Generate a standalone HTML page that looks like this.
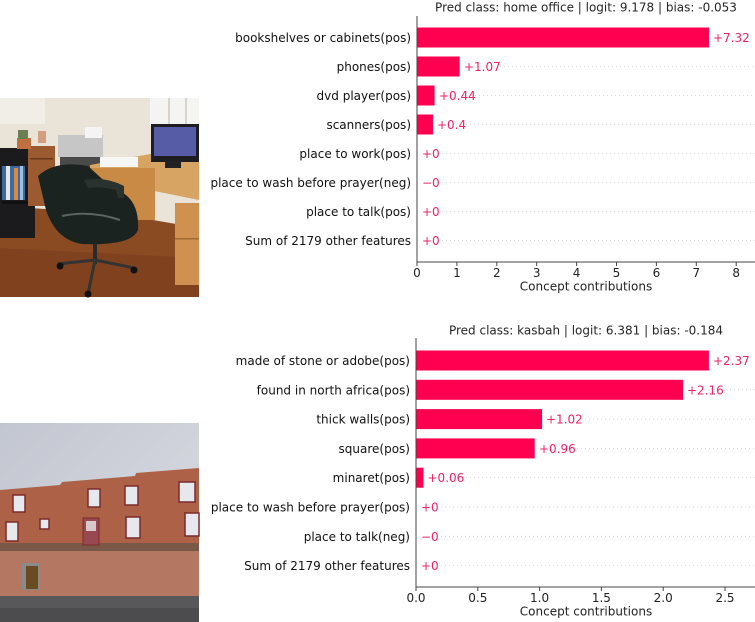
<!DOCTYPE html>
<html><head><meta charset="utf-8"><style>
html,body{margin:0;padding:0;background:#fff;}
svg{display:block;}
text{font-family:"DejaVu Sans","Liberation Sans",sans-serif;font-size:12px;}
</style></head><body>
<svg width="755" height="622" viewBox="0 0 755 622" xmlns="http://www.w3.org/2000/svg">
<rect width="755" height="622" fill="#fff"/>

<!-- ===== Office image ===== -->
<g transform="translate(0,98)">
  <rect x="0" y="0" width="199" height="199" fill="#e9e3d8"/>
  <rect x="0" y="0" width="45" height="26" fill="#f1eee8"/>
  <rect x="150" y="0" width="49" height="28" fill="#f4f4f2"/>
  <rect x="168" y="0" width="2" height="28" fill="#d8d4cc"/>
  <rect x="185" y="0" width="2" height="28" fill="#d8d4cc"/>
  <!-- floor -->
  <polygon points="0,108 60,112 130,118 199,130 199,199 0,199" fill="#8a4a22"/>
  <polygon points="0,150 199,160 199,199 0,199" fill="#7a3e1c" opacity="0.6"/>
  <!-- bookshelf -->
  <rect x="0" y="50" width="35" height="90" fill="#1b1b1d"/>
  <rect x="2" y="68" width="23" height="34" fill="#3c6aa0"/>
  <rect x="6" y="68" width="4" height="34" fill="#e8e8e8"/>
  <rect x="14" y="70" width="4" height="32" fill="#d88a40"/>
  <rect x="20" y="68" width="3" height="34" fill="#a0c0e0"/>
  <rect x="2" y="103" width="30" height="3" fill="#111"/>
  <!-- small cabinet -->
  <rect x="28" y="48" width="27" height="60" fill="#9c5a30"/>
  <rect x="30" y="60" width="23" height="1.5" fill="#6a3a1a"/>
  <!-- plant pots -->
  <rect x="17" y="40" width="14" height="11" fill="#c07040"/>
  <rect x="18" y="32" width="10" height="9" fill="#6a8050"/>
  <rect x="38" y="33" width="8" height="12" fill="#d0a080"/>
  <!-- printer -->
  <rect x="60" y="56" width="42" height="22" fill="#4a4a4a"/>
  <rect x="58" y="37" width="45" height="22" fill="#c6c6c6"/>
  <rect x="85" y="29" width="17" height="11" fill="#f4f4f4"/>
  <!-- desk -->
  <polygon points="90,67 150,56 199,60 199,102 90,80" fill="#d8a463"/>
  <rect x="90" y="70" width="65" height="52" fill="#c98a45"/>
  <rect x="175" y="105" width="24" height="82" fill="#d09050"/>
  <rect x="175" y="140" width="24" height="1.5" fill="#a06a30"/>
  <rect x="100" y="59" width="38" height="10" fill="#f6f6f4"/>
  <!-- monitor -->
  <rect x="151" y="26" width="48" height="38" fill="#1e1e22"/>
  <rect x="154" y="29" width="42" height="29" fill="#565ca6"/>
  <rect x="165" y="63" width="16" height="7" fill="#222"/>
  <!-- chair -->
  <path d="M38,78 Q55,62 88,68 L112,90 Q140,98 138,132 Q132,148 82,146 Q56,142 46,112 Z" fill="#1b2321"/>
  <path d="M84,82 Q105,78 124,88 L124,100 L118,100 L116,92 Q100,88 88,90 Z" fill="#2a3230"/>
  <path d="M62,118 Q90,112 120,122" stroke="#5a6462" stroke-width="2" fill="none"/>
  <!-- chair base -->
  <rect x="93" y="146" width="4" height="20" fill="#2a2a2a"/>
  <line x1="95" y1="162" x2="58" y2="166" stroke="#333" stroke-width="3"/>
  <line x1="95" y1="162" x2="134" y2="170" stroke="#333" stroke-width="3"/>
  <line x1="95" y1="162" x2="88" y2="196" stroke="#333" stroke-width="3"/>
  <circle cx="60" cy="168" r="3.5" fill="#111"/>
  <circle cx="134" cy="172" r="3.5" fill="#111"/>
  <circle cx="88" cy="196" r="3.5" fill="#111"/>
</g>

<!-- ===== Building image ===== -->
<g transform="translate(0,423)">
  <defs>
    <linearGradient id="sky" x1="0" y1="0" x2="1" y2="1">
      <stop offset="0" stop-color="#c2c6d0"/>
      <stop offset="1" stop-color="#dcdee4"/>
    </linearGradient>
  </defs>
  <rect x="0" y="0" width="199" height="199" fill="url(#sky)"/>
  <polygon points="0,67 60,62 62,59 135,53 136,50 199,45 199,175 0,175" fill="#ad6146"/>
  <rect x="0" y="120" width="199" height="8" fill="#7a5848"/>
  <rect x="0" y="128" width="199" height="47" fill="#b47862"/>
  <!-- windows row 1 -->
  <g fill="#e6e8ee" stroke="#7a2a2a" stroke-width="1.5">
    <rect x="13" y="72" width="12" height="17"/>
    <rect x="88" y="66" width="12" height="18"/>
    <rect x="125" y="63" width="13" height="19"/>
    <rect x="179" y="59" width="16" height="20"/>
    <rect x="6" y="99" width="12" height="19"/>
    <rect x="40" y="96" width="9" height="10"/>
    <rect x="126" y="94" width="14" height="21"/>
    <rect x="185" y="90" width="14" height="23"/>
  </g>
  <rect x="83" y="95" width="16" height="27" fill="#984850" stroke="#7a2a2a" stroke-width="1"/>
  <rect x="86" y="98" width="10" height="10" fill="#d8c8cc"/>
  <rect x="22" y="140" width="18" height="27" fill="#8a8a8a"/>
  <rect x="26" y="143" width="12" height="23" fill="#6a4a20"/>
  <!-- ground -->
  <rect x="0" y="173" width="199" height="26" fill="#58585a"/>
  <rect x="0" y="185" width="199" height="14" fill="#4c4c4e"/>
</g>

<!-- ===== Top chart ===== -->
<g>
  <text x="586" y="11.5" text-anchor="middle" fill="#262626">Pred class: home office | logit: 9.178 | bias: -0.053</text>
  <!-- grid lines -->
  <g stroke="#cfcfcf" stroke-width="0.8" stroke-dasharray="1,3">
    <line x1="500" y1="66.5" x2="755" y2="66.5"/>
    <line x1="475" y1="95.5" x2="755" y2="95.5"/>
    <line x1="466" y1="124.5" x2="755" y2="124.5"/>
    <line x1="442" y1="153.5" x2="755" y2="153.5"/>
    <line x1="442" y1="182.5" x2="755" y2="182.5"/>
    <line x1="442" y1="211.5" x2="755" y2="211.5"/>
    <line x1="442" y1="240.5" x2="755" y2="240.5"/>
  </g>
  <g fill="#ff0051">
    <rect x="417" y="27.5" width="292" height="20"/>
    <rect x="417" y="56.5" width="42.7" height="20"/>
    <rect x="417" y="85.5" width="17.6" height="20"/>
    <rect x="417" y="114.5" width="16" height="20"/>
  </g>
  <g fill="#ee2266">
    <text x="713" y="42">+7.32</text>
    <text x="464" y="71">+1.07</text>
    <text x="439" y="100">+0.44</text>
    <text x="437" y="129">+0.4</text>
    <text x="422" y="158">+0</text>
    <text x="422" y="187">−0</text>
    <text x="422" y="216">+0</text>
    <text x="422" y="245">+0</text>
  </g>
  <g fill="#111" text-anchor="end">
    <text x="411" y="42">bookshelves or cabinets(pos)</text>
    <text x="411" y="71">phones(pos)</text>
    <text x="411" y="100">dvd player(pos)</text>
    <text x="411" y="129">scanners(pos)</text>
    <text x="411" y="158">place to work(pos)</text>
    <text x="411" y="187">place to wash before prayer(neg)</text>
    <text x="411" y="216">place to talk(pos)</text>
    <text x="411" y="245">Sum of 2179 other features</text>
  </g>
  <line x1="417" y1="16" x2="417" y2="262.5" stroke="#444" stroke-width="1"/>
  <line x1="416.5" y1="262" x2="755" y2="262" stroke="#444" stroke-width="1"/>
  <g stroke="#444" stroke-width="1">
    <line x1="417" y1="262" x2="417" y2="266"/>
    <line x1="456.9" y1="262" x2="456.9" y2="266"/>
    <line x1="496.8" y1="262" x2="496.8" y2="266"/>
    <line x1="536.7" y1="262" x2="536.7" y2="266"/>
    <line x1="576.6" y1="262" x2="576.6" y2="266"/>
    <line x1="616.5" y1="262" x2="616.5" y2="266"/>
    <line x1="656.4" y1="262" x2="656.4" y2="266"/>
    <line x1="696.3" y1="262" x2="696.3" y2="266"/>
    <line x1="736.2" y1="262" x2="736.2" y2="266"/>
  </g>
  <g fill="#222" text-anchor="middle">
    <text x="417" y="277">0</text>
    <text x="456.9" y="277">1</text>
    <text x="496.8" y="277">2</text>
    <text x="536.7" y="277">3</text>
    <text x="576.6" y="277">4</text>
    <text x="616.5" y="277">5</text>
    <text x="656.4" y="277">6</text>
    <text x="696.3" y="277">7</text>
    <text x="736.2" y="277">8</text>
    <text x="586" y="290.5">Concept contributions</text>
  </g>
</g>

<!-- ===== Bottom chart ===== -->
<g>
  <text x="586" y="334.5" text-anchor="middle" fill="#262626">Pred class: kasbah | logit: 6.381 | bias: -0.184</text>
  <g stroke="#cfcfcf" stroke-width="0.8" stroke-dasharray="1,3">
    <line x1="726" y1="389.8" x2="755" y2="389.8"/>
    <line x1="585" y1="419.1" x2="755" y2="419.1"/>
    <line x1="577" y1="448.4" x2="755" y2="448.4"/>
    <line x1="466" y1="477.7" x2="755" y2="477.7"/>
    <line x1="441" y1="507" x2="755" y2="507"/>
    <line x1="441" y1="536.3" x2="755" y2="536.3"/>
    <line x1="441" y1="565.6" x2="755" y2="565.6"/>
  </g>
  <g fill="#ff0051">
    <rect x="416" y="350.5" width="292.9" height="20"/>
    <rect x="416" y="379.8" width="267" height="20"/>
    <rect x="416" y="409.1" width="126.1" height="20"/>
    <rect x="416" y="438.4" width="118.7" height="20"/>
    <rect x="416" y="467.7" width="7.4" height="20"/>
  </g>
  <g fill="#ee2266">
    <text x="713" y="365">+2.37</text>
    <text x="687" y="394.3">+2.16</text>
    <text x="546" y="423.6">+1.02</text>
    <text x="539" y="452.9">+0.96</text>
    <text x="427.5" y="482.2">+0.06</text>
    <text x="421" y="511.5">+0</text>
    <text x="421" y="540.8">−0</text>
    <text x="421" y="570.1">+0</text>
  </g>
  <g fill="#111" text-anchor="end">
    <text x="410" y="365">made of stone or adobe(pos)</text>
    <text x="410" y="394.3">found in north africa(pos)</text>
    <text x="410" y="423.6">thick walls(pos)</text>
    <text x="410" y="452.9">square(pos)</text>
    <text x="410" y="482.2">minaret(pos)</text>
    <text x="410" y="511.5">place to wash before prayer(pos)</text>
    <text x="410" y="540.8">place to talk(neg)</text>
    <text x="410" y="570.1">Sum of 2179 other features</text>
  </g>
  <line x1="416" y1="338" x2="416" y2="587.5" stroke="#444" stroke-width="1"/>
  <line x1="415.5" y1="587" x2="755" y2="587" stroke="#444" stroke-width="1"/>
  <g stroke="#444" stroke-width="1">
    <line x1="416" y1="587" x2="416" y2="591"/>
    <line x1="477.8" y1="587" x2="477.8" y2="591"/>
    <line x1="539.6" y1="587" x2="539.6" y2="591"/>
    <line x1="601.4" y1="587" x2="601.4" y2="591"/>
    <line x1="663.2" y1="587" x2="663.2" y2="591"/>
    <line x1="725" y1="587" x2="725" y2="591"/>
  </g>
  <g fill="#222" text-anchor="middle">
    <text x="416" y="602">0.0</text>
    <text x="477.8" y="602">0.5</text>
    <text x="539.6" y="602">1.0</text>
    <text x="601.4" y="602">1.5</text>
    <text x="663.2" y="602">2.0</text>
    <text x="725" y="602">2.5</text>
    <text x="586" y="615.5">Concept contributions</text>
  </g>
</g>
</svg>
</body></html>
